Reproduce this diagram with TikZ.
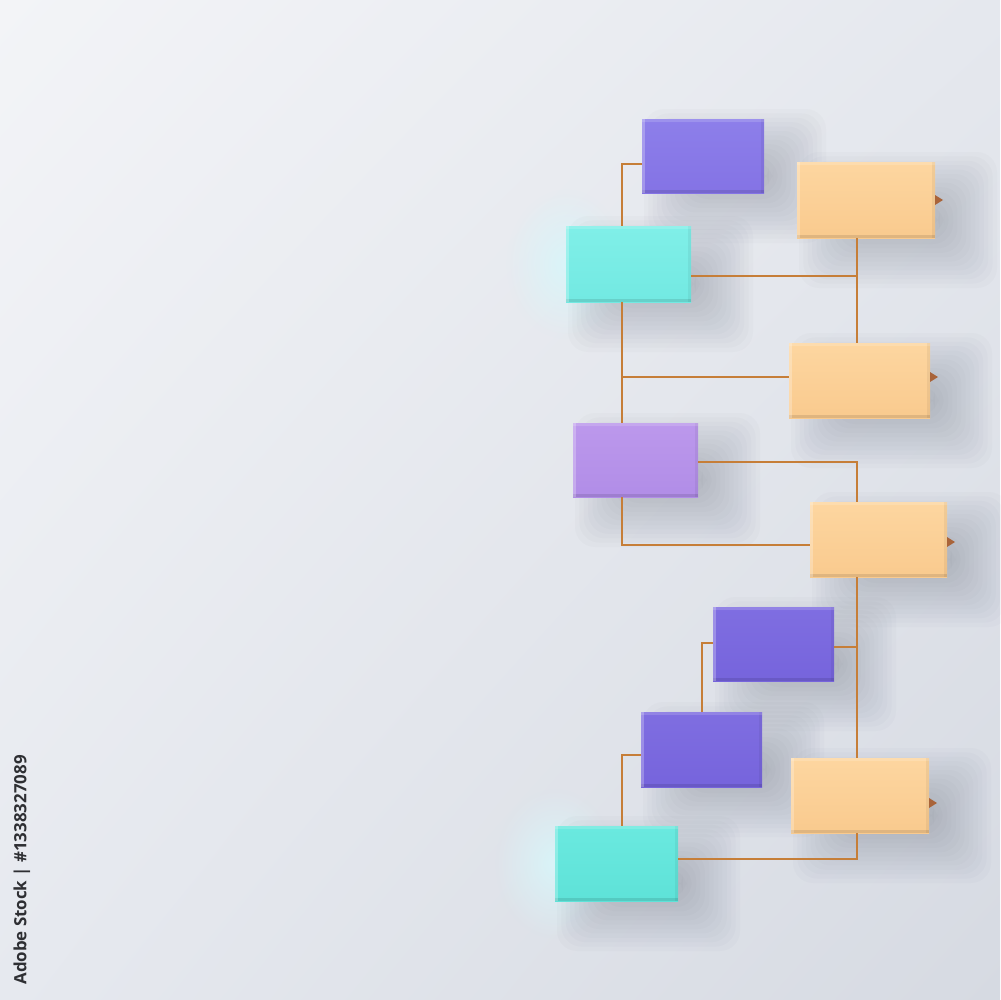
\documentclass[tikz,border=0pt]{standalone}
\usepackage{fontspec}
\newfontfamily\credfont{Open Sans}
\usetikzlibrary{shadings,fadings}
\definecolor{bgUL}{HTML}{F3F4F7}
\definecolor{bgUR}{HTML}{E5E8EE}
\definecolor{bgLL}{HTML}{E6E9EF}
\definecolor{bgLR}{HTML}{D6DAE2}
\definecolor{linec}{HTML}{C67E38}
\definecolor{tipc}{HTML}{A9643A}
\definecolor{purT}{HTML}{8D7FEA}
\definecolor{purB}{HTML}{8473E5}
\definecolor{pdT}{HTML}{7F6EE1}
\definecolor{pdB}{HTML}{7664DC}
\definecolor{lavT}{HTML}{BC98EC}
\definecolor{lavB}{HTML}{B18DE7}
\definecolor{cyT}{HTML}{80EFE8}
\definecolor{cyB}{HTML}{72E9E2}
\definecolor{cdT}{HTML}{6AE9DF}
\definecolor{cdB}{HTML}{5EE2D8}
\definecolor{orT}{HTML}{FDD6A0}
\definecolor{orB}{HTML}{F9CA8E}
\definecolor{credc}{HTML}{2E2F33}
\definecolor{shadc}{HTML}{505868}
\definecolor{glowc}{HTML}{D8F6FA}
\tikzfading[name=glowfade, inner color=transparent!0, outer color=transparent!100]
\pgfdeclarelayer{bg}
\pgfdeclarelayer{sh}
\pgfsetlayers{bg,sh,main}
\newcommand\boxshadow[1]{%
  \foreach \k in {0,...,13}{%
    \pgfmathsetmacro\ea{30-4.4*\k}%
    \pgfmathsetmacro\xa{32-\ea}\pgfmathsetmacro\ya{20-\ea}%
    \pgfmathsetmacro\xb{32+\ea}\pgfmathsetmacro\yb{20+\ea}%
    \fill[shadc, opacity=0.024, rounded corners=2mm]
      ([shift={(\xa,\ya)}]#1.north west) rectangle ([shift={(\xb,\yb)}]#1.south east);
  }}
\begin{document}
\begin{tikzpicture}[x=0.1mm,y=-0.1mm,
  link/.style={draw=linec, line width=0.6pt},
  box/.style={rectangle, anchor=north west, inner sep=0pt, outer sep=0pt,
    path picture={
      \fill[black, opacity=0.10] (path picture bounding box.south west) rectangle ([yshift=0.35mm]path picture bounding box.south east);
      \fill[black, opacity=0.05] (path picture bounding box.south east) rectangle ([xshift=-0.3mm]path picture bounding box.north east);
      \fill[white, opacity=0.25] (path picture bounding box.north west) rectangle ([xshift=0.3mm]path picture bounding box.south west);
      \fill[white, opacity=0.15] (path picture bounding box.north west) rectangle ([yshift=-0.3mm]path picture bounding box.north east);
    }},
  pbox/.style={box, top color=purT, bottom color=purB},
  pdbox/.style={box, top color=pdT, bottom color=pdB},
  lbox/.style={box, top color=lavT, bottom color=lavB},
  cbox/.style={box, top color=cyT, bottom color=cyB},
  cdbox/.style={box, top color=cdT, bottom color=cdB},
  obox/.style={box, top color=orT, bottom color=orB},
  tip/.style={fill=tipc},
  glow/.style={fill=glowc, opacity=0.9, path fading=glowfade},
]
\useasboundingbox (0,0) rectangle (1000,1000);
\begin{pgfonlayer}{bg}
\shade[upper left=bgUL, upper right=bgUR, lower left=bgLL, lower right=bgLR] (0,0) rectangle (1000,1000);
\end{pgfonlayer}

\coordinate (xl) at (622,0);
\coordinate (xr) at (857,0);
\coordinate (xm) at (702,0);

% boxes
\node[cbox,  minimum width=12.5mm, minimum height=7.6mm] (c1) at (566,226) {};
\node[cdbox, minimum width=12.3mm, minimum height=7.5mm] (c2) at (555,826) {};
\node[pbox,  minimum width=12.2mm, minimum height=7.4mm] (p1) at (642,119) {};
\node[lbox,  minimum width=12.5mm, minimum height=7.4mm] (p2) at (573,423) {};
\node[pdbox, minimum width=12.1mm, minimum height=7.4mm] (p3) at (713,607) {};
\node[pdbox, minimum width=12.1mm, minimum height=7.5mm] (p4) at (641,712) {};
\node[obox,  minimum width=13.8mm, minimum height=7.6mm] (o1) at (797,162) {};
\node[obox,  minimum width=14.1mm, minimum height=7.5mm] (o2) at (789,343) {};
\node[obox,  minimum width=13.7mm, minimum height=7.5mm] (o3) at (810,502) {};
\node[obox,  minimum width=13.8mm, minimum height=7.5mm] (o4) at (791,758) {};

% soft shadows and the cyan glows, under the boxes
\begin{pgfonlayer}{sh}
\fill[glow] (c1.west) ellipse [x radius=60, y radius=75];
\fill[glow] (c2.west) ellipse [x radius=60, y radius=75];
\foreach \b in {c1,c2,p1,p2,p3,p4,o1,o2,o3,o4}{\boxshadow{\b}}
\end{pgfonlayer}

% connectors
\draw[link] (p1.west |- 0,164) -| (c1.north -| xl);
\draw[link] (c1.south -| xl) -- (p2.north -| xl);
\draw[link] (xl |- 0,377) -- (o2.west |- 0,377);
\draw[link] (c1.east |- 0,276) -| (o1.south -| xr);
\draw[link] (o1.south -| xr) -- (o2.north -| xr);
\draw[link] (p2.east |- 0,462) -| (o3.north -| xr);
\draw[link] (p2.south -| xl) |- (o3.west |- 0,545);
\draw[link] (o3.south -| xr) -- (o4.north -| xr);
\draw[link] (p3.east |- 0,647) -- (xr |- 0,647);
\draw[link] (p3.west |- 0,643) -| (p4.north -| xm);
\draw[link] (p4.west |- 0,755) -| (c2.north -| xl);
\draw[link] (o4.south -| xr) |- (c2.east |- 0,859);

% small tips on the orange boxes
\fill[tip] (o1.east |- 0,195) -- ++(8,5) -- ++(-8,5) -- cycle;
\fill[tip] (o2.east |- 0,372) -- ++(8,5) -- ++(-8,5) -- cycle;
\fill[tip] (o3.east |- 0,537) -- ++(8,5) -- ++(-8,5) -- cycle;
\fill[tip] (o4.east |- 0,798) -- ++(8,5) -- ++(-8,5) -- cycle;

% credit line
\node[rotate=90, inner sep=0pt, text=credc, font=\credfont\bfseries\fontsize{4.8}{6}\selectfont] (cred) at (22,870) {Adobe Stock | \#1338327089};
\end{tikzpicture}
\end{document}
